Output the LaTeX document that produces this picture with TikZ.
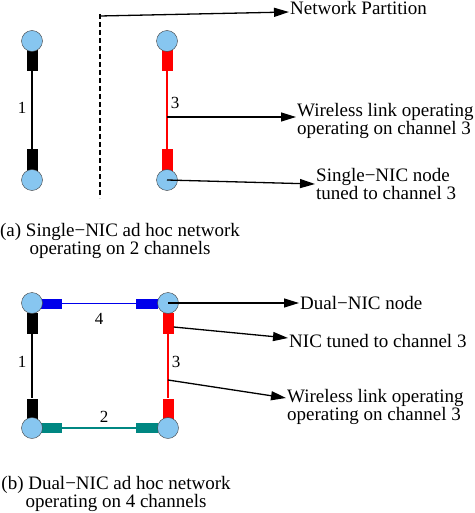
\documentclass[tikz,border=0pt]{standalone}
\usepackage{fontspec}
\setmainfont{Liberation Serif}
\usetikzlibrary{arrows.meta}

\definecolor{hostblue}{RGB}{135,198,240}
\definecolor{nicteal}{RGB}{0,135,130}
\definecolor{nicblue}{RGB}{0,0,235}

\begin{document}
\begin{tikzpicture}[
            x = 1pt, y = -1pt, % one unit per pixel, y downwards
            > = {Triangle[length=15pt, width=9pt]}, % arrow head style
            font = \fontsize{19}{18.5}\selectfont,
%            semithick % line style
        ]
        \useasboundingbox (0,0) rectangle (474,513);

        \tikzstyle{host}=[
            circle,
            draw = black!75,
            thin,
            fill = hostblue,
            minimum size = 21pt,
            inner sep = 0pt
        ]
        \tikzstyle{nicv}=[
            rectangle,
            minimum width = 11pt,
            minimum height = 21pt,
            inner sep = 0pt
        ]
        \tikzstyle{nich}=[
            rectangle,
            minimum width = 22pt,
            minimum height = 10pt,
            inner sep = 0pt
        ]
        \tikzstyle{link}=[line width = 1.4pt]
        \tikzstyle{chan}=[font = \fontsize{17}{17}\selectfont, inner sep = 0pt]
        \tikzstyle{note}=[align = left, anchor = west, inner sep = 1pt]
        \tikzstyle{pointer}=[->, line width = 1.3pt]

        % (a) single-NIC network
        \node[nicv, fill = black] (ka1) at (32,60.5) {};
        \node[nicv, fill = black] (ka2) at (32,160) {};
        \node[nicv, fill = red] (ra1) at (167,60.5) {};
        \node[nicv, fill = red] (ra2) at (167,160) {};

        \draw[link] (ka1) -- (ka2);
        \draw[link, red] (ra1) -- (ra2);
        \node[chan] (c1a) at (22,108) {1};
        \node[chan] (c3a) at (175,103) {3};

        \node[host] (a1) at (32,41) {};
        \node[host] (a2) at (32,180) {};
        \node[host] (a3) at (167,41) {};
        \node[host] (a4) at (167,180) {};

        \coordinate (cuttop) at (100,14);
        \coordinate (cutbot) at (100,198);
        \draw[line width = 1.3pt, dash pattern = on 5pt off 3pt] (cuttop) -- (cutbot);

        \node[note] (part) at (289,8) {Network Partition};
        \node[note] (wla) at (296,121) {Wireless link operating\\operating on channel 3};
        \node[note] (sna) at (315,184) {Single{\char"2212}NIC node\\tuned to channel 3};

        \coordinate (ta) at (167,117);
        \draw[pointer] ([yshift=-2pt]cuttop) -- ([yshift=-4pt]part.west);
        \draw[pointer] (ta) -- ([yshift=4pt]wla.west);
        \draw[pointer] (a4.center) -- (sna.west);

        \node[align = center] (capa) at (120,241)
            {(a) Single{\char"2212}NIC ad hoc network\\operating on 2 channels};

        % (b) dual-NIC network
        \node[nich, fill = nicblue] (ub1) at (51,303.5) {};
        \node[nich, fill = nicblue] (ub2) at (147,303.5) {};
        \node[nicv, fill = black] (kb1) at (32,323) {};
        \node[nicv, fill = black] (kb2) at (32,409) {};
        \node[nicv, fill = red] (rb1) at (168,323) {};
        \node[nicv, fill = red] (rb2) at (168,409) {};
        \node[nich, fill = nicteal] (tb1) at (51,428) {};
        \node[nich, fill = nicteal] (tb2) at (147,428) {};

        \draw[link, nicblue] (ub1) -- (ub2);
        \draw[link] (kb1) -- (kb2);
        \draw[link, red] (rb1) -- (rb2);
        \draw[link, nicteal] (tb1) -- (tb2);
        \node[chan] (c4b) at (99,319) {4};
        \node[chan] (c1b) at (22,362) {1};
        \node[chan] (c3b) at (176,362) {3};
        \node[chan] (c2b) at (104,417) {2};

        \node[host] (b1) at (32,303) {};
        \node[host] (b2) at (168,303) {};
        \node[host] (b3) at (32,428) {};
        \node[host] (b4) at (168,428) {};

        \node[note] (dual) at (299,303) {Dual{\char"2212}NIC node};
        \node[note] (nic) at (288,341) {NIC tuned to channel 3};
        \node[note] (wlb) at (286,407) {Wireless link operating\\operating on channel 3};

        \coordinate (tb) at (168,380);
        \draw[pointer] (b2.center) -- (dual.west);
        \draw[pointer] ([yshift=-4pt]rb1.east) -- ([yshift=3pt]nic.west);
        \draw[pointer] (tb) -- ([yshift=9pt]wlb.west);

        \node[align = center] (capb) at (116,494)
            {(b) Dual{\char"2212}NIC ad hoc network\\operating on 4 channels};
    \end{tikzpicture}
\end{document}
